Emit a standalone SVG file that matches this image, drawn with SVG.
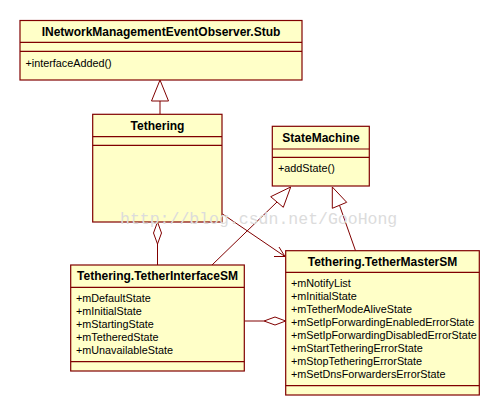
<svg xmlns="http://www.w3.org/2000/svg" width="500" height="416" viewBox="0 0 500 416">
<style>
.box{fill:#FFFFC8;stroke:#800000;stroke-width:1.2}
.sep{stroke:#800000;stroke-width:1.2}
.t{font-family:"Liberation Sans",Arial,sans-serif;font-size:12px;font-weight:bold;fill:#000;text-anchor:middle}
.a{font-family:"Liberation Sans",Arial,sans-serif;font-size:10.8px;fill:#000}
.ln{stroke:#800000;stroke-width:1;fill:none}
.tri{fill:#fff;stroke:#800000;stroke-width:1}
.dia{fill:#fff;stroke:#800000;stroke-width:1}
.wm{font-family:"Liberation Mono",monospace;font-size:16.5px;fill:#dcdcdc}
</style>
<rect width="500" height="416" fill="#fff"/>
<g id="connectors">
  <line class="ln" x1="160" y1="101" x2="160" y2="114"/>
  <polygon class="tri" points="160,80 151.5,101 168.5,101"/>
  <line class="ln" x1="157.5" y1="244" x2="157.5" y2="265"/>
  <polygon class="dia" points="157.5,222 161.5,233 157.5,244 153.5,233"/>
  <line class="ln" x1="212" y1="265" x2="277" y2="202"/>
  <polygon class="tri" points="290.7,187 270.7,196.7 283.3,207.3"/>
  <line class="ln" x1="355.5" y1="250.7" x2="339.5" y2="205.3"/>
  <polygon class="tri" points="332.3,187 332.3,208.3 346.7,202.3"/>
  <line class="ln" x1="222.5" y1="214" x2="285" y2="256.5"/>
  <polyline class="ln" points="274,256.5 285,256.5 279,247"/>
  <line class="ln" x1="244.3" y1="321" x2="264" y2="321"/>
  <polygon class="dia" points="264,321 275,317 285.7,321 275,325"/>
</g>
<g id="stub">
  <rect class="box" x="20" y="20.5" width="282" height="59.5"/>
  <line class="sep" x1="20" y1="42.3" x2="302" y2="42.3"/>
  <line class="sep" x1="20" y1="51.3" x2="302" y2="51.3"/>
  <text class="t" x="161" y="35.5">INetworkManagementEventObserver.Stub</text>
  <text class="a" x="25.5" y="67">+interfaceAdded()</text>
</g>
<g id="tethering">
  <rect class="box" x="92.7" y="114.3" width="129.3" height="107.7"/>
  <line class="sep" x1="92.7" y1="136.7" x2="222" y2="136.7"/>
  <line class="sep" x1="92.7" y1="145.3" x2="222" y2="145.3"/>
  <text class="t" x="157.5" y="129.5">Tethering</text>
</g>
<g id="statemachine">
  <rect class="box" x="272.3" y="126.3" width="97" height="59.7"/>
  <line class="sep" x1="272.3" y1="149" x2="369.3" y2="149"/>
  <line class="sep" x1="272.3" y1="157.3" x2="369.3" y2="157.3"/>
  <text class="t" x="321" y="141.5">StateMachine</text>
  <text class="a" x="278" y="172">+addState()</text>
</g>
<text class="wm" x="120" y="224">http://blog.csdn.net/GooHong</text>
<g id="tetherinterfacesm">
  <rect class="box" x="70.7" y="265" width="173.6" height="106"/>
  <line class="sep" x1="70.7" y1="287.3" x2="244.3" y2="287.3"/>
  <line class="sep" x1="70.7" y1="361.7" x2="244.3" y2="361.7"/>
  <text class="t" x="157.5" y="280">Tethering.TetherInterfaceSM</text>
  <text class="a" x="76" y="302">+mDefaultState</text>
  <text class="a" x="76" y="315">+mInitialState</text>
  <text class="a" x="76" y="328">+mStartingState</text>
  <text class="a" x="76" y="341">+mTetheredState</text>
  <text class="a" x="76" y="354">+mUnavailableState</text>
</g>
<g id="tethermastersm">
  <rect class="box" x="285.7" y="250.7" width="193.6" height="144.3"/>
  <line class="sep" x1="285.7" y1="272.3" x2="479.3" y2="272.3"/>
  <line class="sep" x1="285.7" y1="385.7" x2="479.3" y2="385.7"/>
  <text class="t" x="382.5" y="265.5">Tethering.TetherMasterSM</text>
  <text class="a" x="291" y="287">+mNotifyList</text>
  <text class="a" x="291" y="300">+mInitialState</text>
  <text class="a" x="291" y="313">+mTetherModeAliveState</text>
  <text class="a" x="291" y="326">+mSetIpForwardingEnabledErrorState</text>
  <text class="a" x="291" y="339">+mSetIpForwardingDisabledErrorState</text>
  <text class="a" x="291" y="352">+mStartTetheringErrorState</text>
  <text class="a" x="291" y="365">+mStopTetheringErrorState</text>
  <text class="a" x="291" y="378">+mSetDnsForwardersErrorState</text>
</g>
</svg>
